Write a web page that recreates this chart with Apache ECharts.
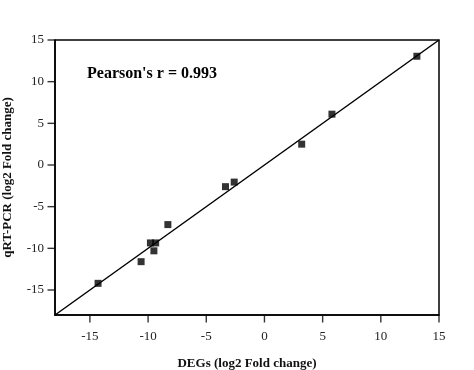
<!DOCTYPE html>
<html><head><meta charset="utf-8">
<script src="https://cdn.jsdelivr.net/npm/echarts@6/dist/echarts.min.js"></script>
<style>html,body{margin:0;padding:0;background:#fff}#c{width:474px;height:370px}</style>
</head><body><div id="c"></div>
<script>
const degs = [-14.3, -10.6, -9.8, -9.35, -9.5, -8.3, -3.35, -2.6, 3.2, 5.8, 13.1];
const qpcr = [-14.2, -11.6, -9.35, -9.35, -10.3, -7.15, -2.6, -2.05, 2.5, 6.1, 13.05];
const fitLine = [[-18, -18], [15, 15]];
const xTicks = [-15, -10, -5, 0, 5, 10, 15];
const yTicks = [-15, -10, -5, 0, 5, 10, 15];
const axisMin = -18;
const pearsonText = "Pearson's r = 0.993";

const font = "'Liberation Serif', 'DejaVu Serif', serif";
const chart = echarts.init(document.getElementById('c'));
chart.setOption({
  animation: false,
  backgroundColor: '#fff',
  grid: {left: 55, right: 35, top: 40, bottom: 55, outerBoundsMode: 'none', containLabel: false, show: true, borderColor: '#000', borderWidth: 1.5, backgroundColor: 'transparent'},
  xAxis: {
    type: 'value', min: axisMin, max: 15,
    name: 'DEGs (log2 Fold change)', nameLocation: 'middle', nameGap: 42,
    nameTextStyle: {fontFamily: font, fontWeight: 'bold', fontSize: 13, color: '#111'},
    axisLine: {show: true, onZero: false, lineStyle: {color: '#000', width: 1.5}},
    axisTick: {show: false},
    axisLabel: {fontFamily: font, fontSize: 13, color: '#222', margin: 15, customValues: xTicks},
    splitLine: {show: false}
  },
  yAxis: {
    type: 'value', min: axisMin, max: 15,
    name: 'qRT-PCR (log2 Fold change)', nameLocation: 'middle', nameGap: 41,
    nameTextStyle: {fontFamily: font, fontWeight: 'bold', fontSize: 13, color: '#111'},
    axisLine: {show: true, onZero: false, lineStyle: {color: '#000', width: 1.5}},
    axisTick: {show: false},
    axisLabel: {fontFamily: font, fontSize: 13, color: '#222', margin: 11, customValues: yTicks},
    splitLine: {show: false}
  },
  graphic: [{
    type: 'text', left: 87, top: 66,
    style: {text: pearsonText, font: "bold 16px 'Liberation Serif', serif", fill: '#000'}
  }],
  series: [
    {type: 'line', data: fitLine, symbol: 'none', lineStyle: {color: '#000', width: 1.5}, z: 1},
    {type: 'scatter', data: degs.map((d, i) => [d, qpcr[i]]), symbol: 'rect', symbolSize: 7, itemStyle: {color: '#000'}, z: 2},
    // tick marks, placed through the axis scales
    {type: 'scatter', data: xTicks.map(v => [v, axisMin]), symbol: 'rect', symbolSize: [1.4, 7], symbolOffset: [0, 4], clip: false, silent: true, itemStyle: {color: '#000'}, z: 5},
    {type: 'scatter', data: yTicks.map(v => [axisMin, v]), symbol: 'rect', symbolSize: [7, 1.4], symbolOffset: [-4, 0], clip: false, silent: true, itemStyle: {color: '#000'}, z: 5}
  ]
});
</script></body></html>
